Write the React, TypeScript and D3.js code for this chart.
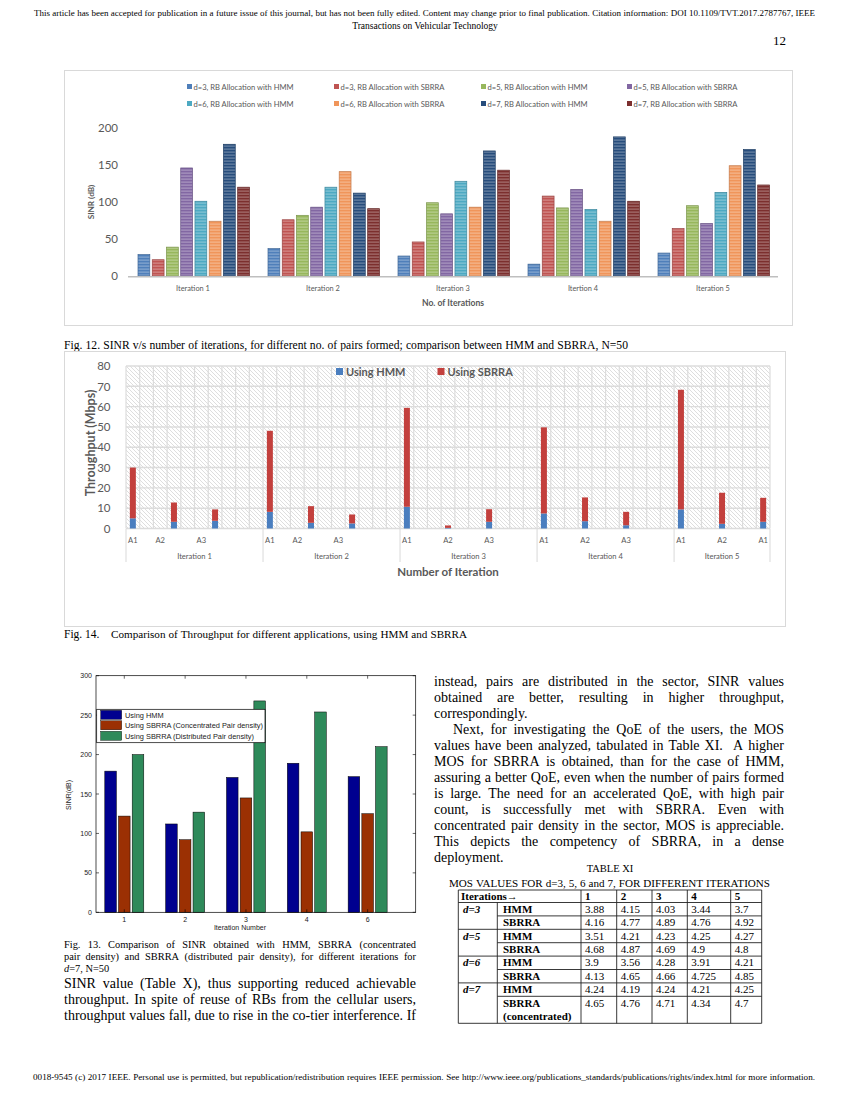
import React from 'react';
import * as d3 from 'd3';

// ---------- Fig. 12 data ----------
const iterations12 = ['Iteration 1', 'Iteration 2', 'Iteration 3', 'Itertion 4', 'Iteration 5'];
const series12 = [
  'd=3, RB Allocation with HMM', 'd=3, RB Allocation with SBRRA',
  'd=5, RB Allocation with HMM', 'd=5, RB Allocation with SBRRA',
  'd=6, RB Allocation with HMM', 'd=6, RB Allocation with SBRRA',
  'd=7, RB Allocation with HMM', 'd=7, RB Allocation with SBRRA',
];
const d3Hmm = [29, 37, 27, 16, 31];
const d3Sbrra = [22, 76, 46, 108, 64];
const d5Hmm = [39, 82, 99, 92, 95];
const d5Sbrra = [146, 93, 84, 117, 71];
const d6Hmm = [101, 120, 128, 90, 113];
const d6Sbrra = [74, 141, 93, 74, 149];
const d7Hmm = [178, 112, 169, 188, 171];
const d7Sbrra = [120, 91, 143, 101, 123];
const values12 = [d3Hmm, d3Sbrra, d5Hmm, d5Sbrra, d6Hmm, d6Sbrra, d7Hmm, d7Sbrra];
const colors12 = ['#4f7fba', '#bf5452', '#97b75c', '#8267a3', '#4da9c2', '#f0955a', '#274d7c', '#7c2f2e'];
const yTicks12 = [0, 50, 100, 150, 200];

// ---------- Fig. 14 data ----------
const slotLabels14 = [
  'A1', '', 'A2', '', '', 'A3', '', '', '', '',
  'A1', '', 'A2', '', '', 'A3', '', '', '', '',
  'A1', '', '', 'A2', '', '', 'A3', '', '', '',
  'A1', '', '', 'A2', '', '', 'A3', '', '', '',
  'A1', '', '', 'A2', '', '', 'A1',
];
const iterations14 = ['Iteration 1', 'Iteration 2', 'Iteration 3', 'Iteration 4', 'Iteration 5'];
const iterStart14 = [0, 10, 20, 30, 40, 47];
const barSlots14 = [0, 3, 6, 10, 13, 16, 20, 23, 26, 30, 33, 36, 40, 43, 46];
const hmm14 = [5, 3.3, 3.8, 8.2, 2.8, 2.5, 10.7, 0.3, 3.3, 7.4, 3.6, 1.6, 9.4, 2.3, 3.3];
const sbrra14 = [25, 9.5, 5.6, 39.9, 8.2, 4.4, 48.7, 1.2, 6.2, 42.4, 11.7, 6.6, 58.9, 15.3, 11.8];
const yTicks14 = [0, 10, 20, 30, 40, 50, 60, 70, 80];

// ---------- Fig. 13 data ----------
const iter13 = ['1', '2', '3', '4', '6'];
const hmm13 = [179, 112, 171, 189, 172];
const conc13 = [122, 92, 145, 102, 125];
const dist13 = [200, 127, 268, 254, 210];
const legend13 = ['Using HMM', 'Using SBRRA (Concentrated Pair density)', 'Using SBRRA (Distributed Pair density)'];
const colors13 = ['#00008f', '#9b3003', '#2e8a5a'];
const yTicks13 = [0, 50, 100, 150, 200, 250, 300];

// ---------- Table XI ----------
const tableHead = ['1', '2', '3', '4', '5'];
const tableGroups = ['d=3', 'd=5', 'd=6', 'd=7'];
const tableRows = [
  ['HMM', '3.88', '4.15', '4.03', '3.44', '3.7'],
  ['SBRRA', '4.16', '4.77', '4.89', '4.76', '4.92'],
  ['HMM', '3.51', '4.21', '4.23', '4.25', '4.27'],
  ['SBRRA', '4.68', '4.87', '4.69', '4.9', '4.8'],
  ['HMM', '3.9', '3.56', '4.28', '3.91', '4.21'],
  ['SBRRA', '4.13', '4.65', '4.66', '4.725', '4.85'],
  ['HMM', '4.24', '4.19', '4.24', '4.21', '4.25'],
  ['SBRRA', '4.65', '4.76', '4.71', '4.34', '4.7'],
];

// ---------- Text ----------
const headerLine1 = 'This article has been accepted for publication in a future issue of this journal, but has not been fully edited. Content may change prior to final publication. Citation information: DOI 10.1109/TVT.2017.2787767, IEEE';
const headerLine2 = 'Transactions on Vehicular Technology';
const footerLine = '0018-9545 (c) 2017 IEEE. Personal use is permitted, but republication/redistribution requires IEEE permission. See http://www.ieee.org/publications_standards/publications/rights/index.html for more information.';
const cap12 = 'Fig. 12. SINR v/s number of iterations, for different no. of pairs formed; comparison between HMM and SBRRA, N=50';
const cap14 = 'Comparison of Throughput for different applications, using HMM and SBRRA';
const cap13 = [
  'Fig. 13. Comparison of SINR obtained with HMM, SBRRA (concentrated',
  'pair density) and SBRRA (distributed pair density), for different iterations for',
];
const leftBody = [
  'SINR value (Table X), thus supporting reduced achievable',
  'throughput. In spite of reuse of RBs from the cellular users,',
  'throughput values fall, due to rise in the co-tier interference. If',
];
const rightBody = [
  { t: 'instead, pairs are distributed in the sector, SINR values', j: true, ind: false },
  { t: 'obtained are better, resulting in higher throughput,', j: true, ind: false },
  { t: 'correspondingly.', j: false, ind: false },
  { t: 'Next, for investigating the QoE of the users, the MOS', j: true, ind: true },
  { t: 'values have been analyzed, tabulated in Table XI.  A higher', j: true, ind: false },
  { t: 'MOS for SBRRA is obtained, than for the case of HMM,', j: true, ind: false },
  { t: 'assuring a better QoE, even when the number of pairs formed', j: true, ind: false },
  { t: 'is large. The need for an accelerated QoE, with high pair', j: true, ind: false },
  { t: 'count, is successfully met with SBRRA. Even with', j: true, ind: false },
  { t: 'concentrated pair density in the sector, MOS is appreciable.', j: true, ind: false },
  { t: 'This depicts the competency of SBRRA, in a dense', j: true, ind: false },
  { t: 'deployment.', j: false, ind: false },
];

const SERIF = 'Liberation Serif, Times New Roman, serif';
const SANS = 'Lato, Liberation Sans, sans-serif';
const HELV = 'Liberation Sans, Arial, sans-serif';

let _ctx: CanvasRenderingContext2D | null = null;
function tw(text: string, font: string) {
  if (!_ctx) _ctx = document.createElement('canvas').getContext('2d');
  _ctx!.font = font;
  return _ctx!.measureText(text).width;
}

function JLine({ text, x0, x1, y, size, justify = true }: any) {
  if (!justify) {
    return <text x={x0} y={y} fontFamily={SERIF} fontSize={size}>{text}</text>;
  }
  const words = text.split(' ');
  const font = `${size}px "Liberation Serif"`;
  const widths = words.map((w: string) => tw(w, font));
  const total = d3.sum(widths);
  const gap = words.length > 1 ? Math.max(2, (x1 - x0 - total) / (words.length - 1)) : 0;
  let x = x0;
  return (
    <g fontFamily={SERIF} fontSize={size}>
      {words.map((w: string, i: number) => {
        const el = <text key={i} x={x} y={y}>{w}</text>;
        x += widths[i] + gap;
        return el;
      })}
    </g>
  );
}

// line fitted to [x0, x1]: font shrinks if needed, then words spread evenly
function FitLine({ text, x0, x1, y, size }: any) {
  const words = text.split(' ');
  const font0 = `${size}px "Liberation Serif"`;
  const natural0 = tw(text, font0);
  const sz = natural0 > (x1 - x0) ? size * (x1 - x0) / natural0 * 0.995 : size;
  const font = `${sz}px "Liberation Serif"`;
  const widths = words.map((w: string) => tw(w, font));
  const total = d3.sum(widths);
  const gap = words.length > 1 ? (x1 - x0 - total) / (words.length - 1) : 0;
  let x = x0;
  return (
    <g fontFamily={SERIF} fontSize={sz}>
      {words.map((w: string, i: number) => {
        const el = <text key={i} x={x} y={y}>{w}</text>;
        x += widths[i] + gap;
        return el;
      })}
    </g>
  );
}

function Fig12() {
  const x0 = d3.scaleBand<string>().domain(iterations12).range([128, 778]);
  const x1 = d3.scaleBand<number>().domain(d3.range(8)).range([10, 121.5]).paddingInner(0.17);
  const y = d3.scaleLinear().domain([0, 200]).range([276, 128]);
  const legX = [187, 334, 481, 627];
  const legY = [87, 104];
  return (
    <g>
      <defs>
        {colors12.map((c, i) => (
          <pattern key={i} id={`st12_${i}`} patternUnits="userSpaceOnUse" width={6} height={3}>
            <rect width={6} height={3} fill={c} />
            <rect y={1.6} width={6} height={1} fill="#ffffff" opacity={0.38} />
          </pattern>
        ))}
      </defs>
      <rect x={64.5} y={70.5} width={728} height={255} fill="#fff" stroke="#d9d9d9" />
      {series12.map((s, i) => {
        const lx = legX[i % 4];
        const ly = legY[Math.floor(i / 4)];
        return (
          <g key={s}>
            <rect x={lx} y={ly - 3} width={5} height={5} fill={colors12[i]} />
            <text x={lx + 6.5} y={ly + 2.5} fontFamily={SANS} fontSize={7.6} fill="#595959">{s}</text>
          </g>
        );
      })}
      {yTicks12.map((t) => (
        <text key={t} x={118} y={y(t) + 4} textAnchor="end" fontFamily={SANS} fontSize={11.5} fill="#595959">{t}</text>
      ))}
      <text transform={`translate(94,${202}) rotate(-90)`} textAnchor="middle" fontFamily={SANS} fontSize={8.2} fontWeight="bold" fill="#595959">SINR (dB)</text>
      {iterations12.map((it, g) => (
        <g key={it}>
          {values12.map((vals, s) => (
            <rect key={s} x={x0(it)! + x1(s)!} y={y(vals[g])} width={x1.bandwidth()} height={y(0) - y(vals[g])}
              fill={`url(#st12_${s})`} stroke={d3.color(colors12[s])!.darker(0.6).toString()} strokeWidth={0.7} />
          ))}
          <text x={x0(it)! + x0.bandwidth() / 2} y={291} textAnchor="middle" fontFamily={SANS} fontSize={7.4} fill="#595959">{it}</text>
        </g>
      ))}
      <line x1={128} x2={778} y1={276.8} y2={276.8} stroke="#bfbfbf" strokeWidth={1.5} />
      <text x={453} y={306} textAnchor="middle" fontFamily={SANS} fontSize={8.6} fontWeight="bold" fill="#595959">No. of Iterations</text>
    </g>
  );
}

function Fig14() {
  const x = d3.scaleBand<number>().domain(d3.range(47)).range([126, 770]);
  const y = d3.scaleLinear().domain([0, 80]).range([528.5, 366]);
  const bw = 6;
  return (
    <g>
      <defs>
        <pattern id="hatch14" patternUnits="userSpaceOnUse" width={4} height={4}>
          <rect width={4} height={4} fill="#ffffff" />
          <path d="M-1,-1 L5,5 M-1,3 L1,5 M3,-1 L5,1" stroke="#c8c8c8" strokeWidth={0.6} />
        </pattern>
      </defs>
      <rect x={64.5} y={351.5} width={721} height={275} fill="#fff" stroke="#d9d9d9" />
      <rect x={126} y={y(80)} width={770 - 126} height={y(0) - y(80)} fill="url(#hatch14)" />
      {d3.range(48).map((i) => {
        const xx = 126 + i * x.step();
        return <line key={i} x1={xx} x2={xx} y1={y(80)} y2={y(0)} stroke="#dcdcdc" strokeWidth={1.2} />;
      })}
      {yTicks14.map((t) => (
        <g key={t}>
          <line x1={126} x2={770} y1={y(t)} y2={y(t)} stroke="#dcdcdc" strokeWidth={1.4} />
          <text x={110.5} y={y(t) + 4.2} textAnchor="end" fontFamily={SANS} fontSize={11.5} fill="#595959">{t}</text>
        </g>
      ))}
      {barSlots14.map((s, i) => {
        const cx = x(s)! + x.bandwidth() / 2;
        return (
          <g key={i}>
            <rect x={cx - bw / 2} y={y(hmm14[i])} width={bw} height={y(0) - y(hmm14[i])} fill="#4a7ebf" />
            <rect x={cx - bw / 2} y={y(hmm14[i] + sbrra14[i])} width={bw} height={y(hmm14[i]) - y(hmm14[i] + sbrra14[i])} fill="#c3403d" />
          </g>
        );
      })}
      {slotLabels14.map((l, i) => l ? (
        <text key={i} x={x(i)! + x.bandwidth() / 2} y={543} textAnchor="middle" fontFamily={SANS} fontSize={7.6} fill="#595959">{l}</text>
      ) : null)}
      {iterStart14.map((s, i) => {
        const xx = 126 + s * x.step();
        return <line key={i} x1={xx} x2={xx} y1={529} y2={562} stroke="#d9d9d9" strokeWidth={1} />;
      })}
      {iterations14.map((it, i) => {
        const xa = 126 + iterStart14[i] * x.step();
        const xb = 126 + iterStart14[i + 1] * x.step();
        return <text key={it} x={(xa + xb) / 2} y={559} textAnchor="middle" fontFamily={SANS} fontSize={7.6} fill="#595959">{it}</text>;
      })}
      <text transform={`translate(95,${443}) rotate(-90)`} textAnchor="middle" fontFamily={SANS} fontSize={12.5} fontWeight="bold" fill="#595959">Throughput (Mbps)</text>
      <text x={448} y={576} textAnchor="middle" fontFamily={SANS} fontSize={11.5} fontWeight="bold" fill="#595959">Number of Iteration</text>
      <rect x={336} y={368} width={7} height={7} fill="#4a7ebf" />
      <text x={346} y={375.5} fontFamily={SANS} fontSize={11} fontWeight="bold" fill="#595959">Using HMM</text>
      <rect x={437.5} y={368} width={7} height={7} fill="#c3403d" />
      <text x={447.5} y={375.5} fontFamily={SANS} fontSize={11} fontWeight="bold" fill="#595959">Using SBRRA</text>
    </g>
  );
}

function Fig13() {
  const x = d3.scaleLinear().domain([0.535, 5.79]).range([96, 415.7]);
  const y = d3.scaleLinear().domain([0, 300]).range([912.3, 675.7]);
  const offs = [-13.7, 0, 13.7];
  const bw = 11.6;
  const series = [hmm13, conc13, dist13];
  const L = 96, R = 415.7, T = 675.7, B = 912.3;
  return (
    <g>
      <rect x={L} y={T} width={R - L} height={B - T} fill="#fff" />
      {iter13.map((lab, i) => (
        <g key={i}>
          {series.map((vals, s) => (
            <rect key={s} x={x(i + 1) + offs[s] - bw / 2} y={y(vals[i])} width={bw} height={y(0) - y(vals[i])}
              fill={colors13[s]} stroke="#000" strokeWidth={0.5} />
          ))}
          <line x1={x(i + 1)} x2={x(i + 1)} y1={B} y2={B - 3} stroke="#000" strokeWidth={0.6} />
          <line x1={x(i + 1)} x2={x(i + 1)} y1={T} y2={T + 3} stroke="#000" strokeWidth={0.6} />
          <text x={x(i + 1)} y={922} textAnchor="middle" fontFamily={HELV} fontSize={7} fill="#222">{lab}</text>
        </g>
      ))}
      {yTicks13.map((t) => (
        <g key={t}>
          <line x1={L} x2={L + 3} y1={y(t)} y2={y(t)} stroke="#000" strokeWidth={0.6} />
          <line x1={R} x2={R - 3} y1={y(t)} y2={y(t)} stroke="#000" strokeWidth={0.6} />
          <text x={92} y={y(t) + 2.5} textAnchor="end" fontFamily={HELV} fontSize={7} fill="#222">{t}</text>
        </g>
      ))}
      <rect x={L} y={T} width={R - L} height={B - T} fill="none" stroke="#000" strokeWidth={0.7} />
      <text x={240} y={929.5} textAnchor="middle" fontFamily={HELV} fontSize={7} fill="#222">Iteration Number</text>
      <text transform={`translate(71,${795}) rotate(-90)`} textAnchor="middle" fontFamily={HELV} fontSize={7} fill="#222">SINR(dB)</text>
      <rect x={96.7} y={709.3} width={168.3} height={33.4} fill="#fff" stroke="#000" strokeWidth={0.7} />
      {legend13.map((l, i) => (
        <g key={l}>
          <rect x={100.7} y={710.3 + i * 10.5} width={21} height={9} fill={colors13[i]} stroke="#000" strokeWidth={0.4} />
          <text x={125} y={717.6 + i * 10.5} fontFamily={HELV} fontSize={7.4} fill="#222">{l}</text>
        </g>
      ))}
    </g>
  );
}

function Table11() {
  const cols = [458.3, 497.3, 581, 616.7, 652, 687.3, 730.7, 761.7];
  const top = 890;
  const headB = 902.5;
  const rh = 13.4;
  const rowTop = (r: number) => headB + r * rh;
  const bottom = 1023.3;
  const lines: any[] = [];
  lines.push(<line key="t" x1={cols[0]} x2={cols[7]} y1={top} y2={top} />);
  lines.push(<line key="h" x1={cols[0]} x2={cols[7]} y1={headB} y2={headB} />);
  for (let r = 1; r < 8; r++) {
    const yy = rowTop(r);
    const full = r % 2 === 0;
    lines.push(<line key={'r' + r} x1={full ? cols[0] : cols[1]} x2={cols[7]} y1={yy} y2={yy} />);
  }
  lines.push(<line key="b" x1={cols[0]} x2={cols[7]} y1={bottom} y2={bottom} />);
  cols.forEach((c, i) => {
    const y1 = i === 1 ? headB : top;
    lines.push(<line key={'v' + i} x1={c} x2={c} y1={y1} y2={bottom} />);
  });
  return (
    <g fontFamily={SERIF}>
      <text x={610} y={872} textAnchor="middle" fontSize={10.5}>TABLE XI</text>
      <FitLine text="MOS VALUES FOR d=3, 5, 6 and 7, FOR DIFFERENT ITERATIONS" x0={449} x1={770} y={887} size={12} />
      <g stroke="#222" strokeWidth={0.9}>{lines}</g>
      <text x={461} y={900} fontSize={11} fontWeight="bold">Iterations→</text>
      {tableHead.map((h, i) => (
        <text key={h} x={cols[2 + i] + 4} y={900} fontSize={11} fontWeight="bold">{h}</text>
      ))}
      {tableGroups.map((g, i) => (
        <text key={g} x={463} y={rowTop(i * 2) + 10.3} fontSize={11} fontWeight="bold" fontStyle="italic">{g}</text>
      ))}
      {tableRows.map((row, r) => (
        <g key={r}>
          <text x={503} y={rowTop(r) + 10.3} fontSize={11} fontWeight="bold">{row[0]}</text>
          {row.slice(1).map((v, c) => (
            <text key={c} x={cols[2 + c] + 4} y={rowTop(r) + 10.3} fontSize={11}>{v}</text>
          ))}
        </g>
      ))}
      <text x={503} y={rowTop(7) + 23.5} fontSize={11} fontWeight="bold">(concentrated)</text>
    </g>
  );
}

export default function App() {
  return (
    <svg width={850} height={1100} style={{ position: 'absolute', left: 0, top: 0, background: '#fff' }}>
      <rect width={850} height={1100} fill="#fff" />
      <FitLine text={headerLine1} x0={34} x1={815} y={16} size={9.5} />
      <text x={425} y={28.5} textAnchor="middle" fontFamily={SERIF} fontSize={9.5}>{headerLine2}</text>
      <text x={786} y={45} textAnchor="end" fontFamily={SERIF} fontSize={13}>12</text>

      <Fig12 />
      <FitLine text={cap12} x0={64} x1={628} y={349} size={12.5} />

      <Fig14 />
      <text x={64} y={638} fontFamily={SERIF} fontSize={11.5}>Fig. 14.</text>
      <FitLine text={cap14} x0={111} x1={467} y={638} size={12.5} />

      <Fig13 />
      {cap13.map((l, i) => (
        <JLine key={i} text={l} x0={64} x1={416} y={947.5 + i * 12.3} size={10.4} />
      ))}
      <text x={64} y={972} fontFamily={SERIF} fontSize={10.4}><tspan fontStyle="italic">d</tspan>=7, N=50</text>
      {leftBody.map((l, i) => (
        <JLine key={i} text={l} x0={64} x1={416} y={988 + i * 16} size={14} />
      ))}

      {rightBody.map((l, i) => (
        <JLine key={i} text={l.t} x0={l.ind ? 453 : 434} x1={784} y={685.5 + i * 16} size={14} justify={l.j} />
      ))}

      <Table11 />

      <FitLine text={footerLine} x0={33} x1={815} y={1080} size={10} />
    </svg>
  );
}
